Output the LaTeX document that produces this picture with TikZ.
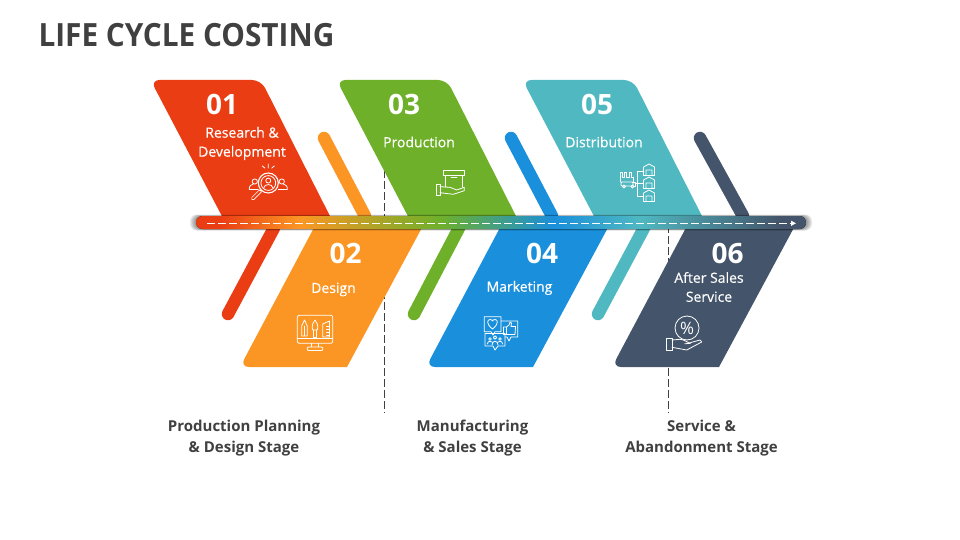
\documentclass[tikz,border=0pt]{standalone}
\usepackage{fontspec}
\setmainfont{Open Sans}
\newfontfamily\semifont{Open Sans}[FakeBold=0.4]
\usetikzlibrary{arrows.meta,positioning}
\definecolor{cred}{HTML}{EB3D14}
\definecolor{corange}{HTML}{FB9624}
\definecolor{cgreen}{HTML}{6EB02A}
\definecolor{cblue}{HTML}{1A8FDB}
\definecolor{cteal}{HTML}{4FB8C1}
\definecolor{cdark}{HTML}{44546A}
\definecolor{ctext}{HTML}{404040}
\pgfdeclarehorizontalshading{barfade}{100bp}{color(0bp)=(cred);color(27bp)=(cred);color(33.5bp)=(corange);color(45bp)=(cgreen);color(54.3bp)=(cblue);color(61.4bp)=(cteal);color(73bp)=(cdark);color(100bp)=(cdark)}
\tikzstyle{stick}=[line width=12.5pt,line cap=round]
\tikzstyle{guide}=[draw=ctext,line width=0.8pt,dash pattern=on 8pt off 3pt]
\tikzstyle{num}=[text=white,font=\fontsize{28}{30}\selectfont\bfseries]
\tikzstyle{lab}=[text=white,align=center,font=\fontsize{14}{19}\selectfont\semifont]
\tikzstyle{stage}=[text=ctext,align=center,font=\fontsize{15}{21}\selectfont\bfseries]
\tikzstyle{icon}=[draw=white,line width=0.8pt,line cap=round,line join=round]
\newcommand{\cardup}[2]{\fill[#2] (225+#1,222) [rounded corners=9pt] -- (150.5+#1,80) -- (261+#1,80) [sharp corners] -- (333+#1,222) -- cycle;}
\newcommand{\carddown}[2]{\fill[#2] (317+#1,222) [rounded corners=9pt] -- (240+#1,367) [sharp corners] -- (347+#1,367) -- (425+#1,222) -- cycle;}
\newcommand{\shed}[2]{\draw[icon] (#1-5.5,#2+5.5) -- (#1-5.5,#2-3) -- (#1,#2-6) -- (#1+5.5,#2-3) -- (#1+5.5,#2+5.5) -- cycle (#1-3,#2+5.5) -- (#1-3,#2) -- (#1+3,#2) -- (#1+3,#2+5.5);}
\begin{document}
\begin{tikzpicture}[x=1pt,y=-1pt]
    \useasboundingbox (0,0) rectangle (960,540);

    % Titel
    \node[text=ctext,anchor=west,font=\fontsize{32}{34}\selectfont\bfseries\addfontfeature{FakeStretch=0.93}] (title) at (35,35) {LIFE CYCLE COSTING};

    % Hilfslinien
    \coordinate (g1a) at (384,170);
    \coordinate (g1b) at (384,413);
    \coordinate (g2a) at (668,170);
    \coordinate (g2b) at (668,413);
    \draw[guide] (g1a) -- (g1b);
    \draw[guide] (g2a) -- (g2b);

    % Stiele
    \draw[stick,corange] (324,138) -- (365,216);
    \draw[stick,cblue] (511,138) -- (552,216);
    \draw[stick,cdark] (700,138) -- (743,216);
    \draw[stick,cred] (228,314) -- (274,228);
    \draw[stick,cgreen] (414,314) -- (459,228);
    \draw[stick,cteal] (598,314) -- (644,228);

    % Karten
    \cardup{0}{cred}
    \cardup{186}{cgreen}
    \cardup{372}{cteal}
    \carddown{0}{corange}
    \carddown{186}{cblue}
    \carddown{372}{cdark}

    % Balken
    \foreach \w in {1,2,...,6}
        \fill[black,opacity=0.08,rounded corners=6.5pt] (196-\w,216-\w/4) rectangle (806+\w,229+\w/4);
    \fill[shading=barfade,rounded corners=6.5pt] (196,216) rectangle (806,229);
    \coordinate (axisa) at (207,223.3);
    \coordinate (axisb) at (796,223.3);
    \draw[white,line width=0.8pt,dash pattern=on 8pt off 3pt,-{Triangle[length=5pt,width=5pt]}] (axisa) -- (axisb);

    % Nummern
    \node[num] (n1) at (222,104) {01};
    \node[num] (n2) at (345.5,253) {02};
    \node[num] (n3) at (404,104) {03};
    \node[num] (n4) at (542,253) {04};
    \node[num] (n5) at (597,104) {05};
    \node[num] (n6) at (727.5,253) {06};

    % Texte
    \node[lab] (l1) at (242,143.5) {Research \&\\Development};
    \node[lab] (l2) at (333.5,289.5) {Design};
    \node[lab] (l3) at (419,142) {Production};
    \node[lab] (l4) at (519.5,288) {Marketing};
    \node[lab] (l5) at (604,142) {Distribution};
    \node[lab] (l6) at (709,287) {After Sales\\Service};

    % Phasen
    \node[stage] (s1) at (244,438) {Production Planning\\\& Design Stage};
    \node[stage] (s2) at (472.5,438) {Manufacturing\\\& Sales Stage};
    \node[stage] (s3) at (701.5,438) {Service \&\\Abandonment Stage};

    % Symbol 01
    \begin{scope}[shift={(268.3,183)}]
        \draw[icon,line width=1.1pt] (0,0) circle (10);
        \draw[icon] (0,0) circle (7.4) (0,-2.4) circle (2.5);
        \draw[icon] (-4.4,4.6) .. controls (-4,0.6) and (4,0.6) .. (4.4,4.6);
        \draw[white,line width=3.6pt,line cap=round] (-8,8) -- (-15.5,15.5);
        \draw[cred,line width=2pt,line cap=round] (-8.5,8.5) -- (-15.5,15.5);
        \draw[icon] (0,-19) -- (0,-15) (-6,-17) -- (-3.5,-15) (6,-17) -- (3.5,-15);
        \draw[icon] (-13.5,-1.5) circle (2.6) (13.5,-1.5) circle (2.6);
        \draw[icon] (-10,6.5) -- (-19,6.5) .. controls (-19.5,3) and (-17,1.5) .. (-15,1) (10,6.5) -- (19,6.5) .. controls (19.5,3) and (17,1.5) .. (15,1);
    \end{scope}

    % Symbol 02
    \begin{scope}[shift={(315,332)}]
        \draw[icon,rounded corners=2pt] (-17.7,-16.7) rectangle (17.7,11.3);
        \draw[icon] (-17.7,6.3) -- (17.7,6.3);
        \draw[icon] (-3.3,11.3) -- (-3.3,15) (3.3,11.3) -- (3.3,15);
        \draw[icon,rounded corners=1pt] (-7.7,15) rectangle (7.7,18.5);
        \draw[icon] (-13.3,4) -- (-13.3,-6) -- (-10.5,-12) -- (-7.7,-6) -- (-7.7,4) -- cycle (-10.5,-6) -- (-10.5,4);
        \draw[icon] (0,-12) .. controls (-4,-7) and (-3,-2) .. (-1.7,-2) -- (1.7,-2) .. controls (3,-2) and (4,-7) .. (0,-12);
        \draw[icon] (-1.7,-2) -- (-1.7,5) -- (1.7,5) -- (1.7,-2);
        \draw[icon] (7.7,-8) -- (14.5,-11) -- (14.5,5) -- (7.7,5) -- cycle;
        \foreach \y in {-6,-3,0,3}
            \draw[icon] (11.5,\y) -- (14.5,\y);
    \end{scope}

    % Symbol 03
    \begin{scope}[shift={(452,182)}]
        \draw[icon] (-8.7,-11.3) rectangle (12.3,-6.3);
        \draw[icon] (-7,-6.3) -- (-7,5) (10.7,-6.3) -- (10.7,5) (-1,-4.6) -- (5,-4.6);
        \draw[icon] (-15.3,2) rectangle (-12,13);
        \draw[icon] (-12,4.7) -- (-2,5.3) -- (4.7,8) -- (12.3,5.3) -- (12.3,8.7) -- (1.3,12.3) -- (-12,10.7);
    \end{scope}

    % Symbol 04
    \begin{scope}[shift={(500,333)}]
        \draw[icon] (-15.7,-16.3) -- (1,-16.3) -- (1,-1.3) -- (-5,-1.3) -- (-7,2) -- (-9,-1.3) -- (-15.7,-1.3) -- cycle;
        \draw[icon] (-7.5,-4) .. controls (-14,-9) and (-13,-13.5) .. (-10,-13.5) .. controls (-8.5,-13.5) and (-7.5,-12.5) .. (-7.5,-12) .. controls (-7.5,-12.5) and (-6.5,-13.5) .. (-5,-13.5) .. controls (-2,-13.5) and (-1,-9) .. (-7.5,-4);
        \draw[icon] (1,-12) -- (17.7,-12) -- (17.7,4) -- (11,4) -- (9,8) -- (7,4) -- (5,4);
        \draw[icon] (3.5,-6) rectangle (6.5,1.5) (6.5,-6) -- (9,-8) -- (10,-11) -- (11.5,-10) -- (11,-6.5) -- (15.5,-6.5) -- (15,1.5) -- (6.5,1.5);
        \draw[icon] (-15,0.5) -- (5,0.5) -- (5,13) -- (-2,13) -- (-5,17) -- (-7,13) -- (-15,13) -- cycle;
        \draw[icon] (-5,4.5) circle (1.7) (-10,6) circle (1.4) (0,6) circle (1.4);
        \draw[icon] (-8,12) .. controls (-8,7) and (-2,7) .. (-2,12) (-12.5,11) .. controls (-12.5,8) and (-9,7.5) .. (-8,9) (2.5,11) .. controls (2.5,8) and (-1,7.5) .. (-2,9);
    \end{scope}

    % Symbol 05
    \begin{scope}[shift={(635,183)}]
        \shed{14}{-13}
        \shed{14}{0}
        \shed{14}{13}
        \draw[icon] (7.7,-12) -- (2.7,-12) -- (2.7,13) -- (7.7,13) (0,0) -- (7.7,0);
        \draw[icon] (-15,-1) -- (-15,-11) -- (-13,-11) -- (-13,-6) -- (-10.5,-6) -- (-10.5,-11) -- (-8.5,-11) -- (-8.5,-6) -- (-6,-6) -- (-6,-11) -- (-4,-11) -- (-4,-6) -- (-2,-6) -- (-2,-1);
        \draw[icon,rounded corners=1pt] (-14,-1) rectangle (-2,3);
        \draw[icon] (-2,-1) -- (0,-1) -- (0,3) -- (-2,3);
        \draw[icon] (-11,3.5) circle (1.5) (-2.5,3.5) circle (1.5);
    \end{scope}

    % Symbol 06
    \begin{scope}[shift={(687,328)}]
        \draw[icon] (0,0) circle (12);
        \node[text=white,inner sep=0pt,font=\fontsize{17}{18}\selectfont] (pct) at (0,0) {\%};
        \draw[icon] (-20.3,10.5) rectangle (-15,22.5);
        \draw[icon] (-15,12) -- (-7,11.3) .. controls (-3,11.3) and (1,15) .. (3.5,15.3) -- (-2.3,15.8) (1,15.3) -- (13,12) -- (14.7,14) -- (-0.3,22) -- (-15,19.3);
    \end{scope}
\end{tikzpicture}
\end{document}
